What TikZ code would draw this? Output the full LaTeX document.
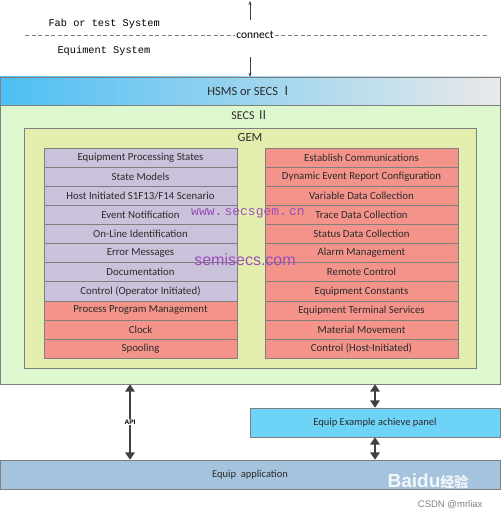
\documentclass[tikz,border=0pt]{standalone}
\usepackage{fontspec}
\setmainfont{Carlito}
\newfontfamily\monofont{Liberation Mono}
\newfontfamily\arialfont{Liberation Sans}
\newfontfamily\cjk{Noto Sans CJK SC}
\usetikzlibrary{arrows.meta, positioning}
\definecolor{verdesecs}{HTML}{DDF8CF}
\definecolor{amarillogem}{HTML}{E3EDAE}
\definecolor{lila}{HTML}{C9C2DA}
\definecolor{salmon}{HTML}{F4938A}
\definecolor{azulhsms}{HTML}{4DBFF4}
\definecolor{grisclaro}{HTML}{E9E9E9}
\definecolor{celeste}{HTML}{6DD3F7}
\definecolor{azulapp}{HTML}{A5C3DC}
\definecolor{gris}{HTML}{7F7F7F}
\definecolor{grisoscuro}{HTML}{404040}
\definecolor{morado}{HTML}{9A50B8}
\definecolor{texto}{HTML}{2B2B2B}

\tikzset{
  capa/.style={draw=gris, inner sep=0pt, text=texto, font=\fontsize{10.5}{12}\selectfont},
  fila/.style={capa, minimum width=193pt, minimum height=19.09pt, font=\fontsize{10.8}{12}\selectfont},
  doble/.style={{Triangle[length=7.5pt,width=9.5pt]}-{Triangle[length=7.5pt,width=9.5pt]},
                line width=2.4pt, draw=grisoscuro},
  fina/.style={-{Stealth[length=4pt,width=3pt]}, grisoscuro, thin},
}

\begin{document}
\begin{tikzpicture}[x=1pt, y=-1pt]
  \useasboundingbox (0,0) rectangle (500,518);

  % --- cabecera: fab / equipo ---
  \node[font=\monofont\fontsize{10.3}{12}\selectfont, anchor=west] (fab) at (45,24) {Fab or test System};
  \node[font=\monofont\fontsize{10.3}{12}\selectfont, anchor=west] (equi) at (54,51) {Equiment System};
  \node[font=\fontsize{11.5}{13}\selectfont, inner sep=1pt] (connect) at (255,35) {connect};
  \coordinate (dl) at (25,35);
  \coordinate (dr) at (488,35);
  \draw[gris, dashed, dash pattern=on 4pt off 2.5pt] (dl) -- (connect.west);
  \draw[gris, dashed, dash pattern=on 4pt off 2.5pt] (connect.east) -- (dr);
  \coordinate (arr1) at (250,20);
  \coordinate (arr0) at (250,1);
  \draw[fina] (arr1) -- (arr0);

  % --- capas ---
  \node[capa, fill=verdesecs, minimum width=500pt, minimum height=279pt] (secsII) at (250,244.5) {};
  \node[capa, font=\fontsize{12}{14}\selectfont, draw=none] (secslbl) at (250,115) {SECS\,{\cjk Ⅱ}};
  \node[capa, fill=amarillogem, minimum width=452pt, minimum height=240pt] (gem) at (250,248) {};
  \node[capa, font=\fontsize{12.5}{14}\selectfont, draw=none] (gemlbl) at (250,137.5) {GEM};

  \node[capa, left color=azulhsms, right color=grisclaro, minimum width=500pt, minimum height=28pt,
        font=\fontsize{12.5}{14}\selectfont] (hsms) at (250,91) {HSMS or SECS\,{\cjk Ⅰ}};
  \coordinate (arr2) at (250,57);
  \draw[fina] (arr2) -- (hsms.north);

  % --- columna izquierda ---
  \foreach \i/\lbl/\col in {1/Equipment Processing States/lila, 2/State Models/lila,
      3/{Host Initiated S1F13/F14 Scenario}/lila, 4/Event Notification/lila,
      5/On-Line Identification/lila, 6/Error Messages/lila, 7/Documentation/lila,
      8/Control (Operator Initiated)/lila, 9/Process Program Management/salmon,
      10/Clock/salmon, 11/Spooling/salmon} {
    \node[fila, fill=\col] (L\i) at (140.5,148+19.09*\i-9.545) {\lbl};
  }

  % --- columna derecha ---
  \foreach \i/\lbl in {1/Establish Communications, 2/Dynamic Event Report Configuration,
      3/Variable Data Collection, 4/Trace Data Collection, 5/Status Data Collection,
      6/Alarm Management, 7/Remote Control, 8/Equipment Constants,
      9/Equipment Terminal Services, 10/Material Movement, 11/Control (Host-Initiated)} {
    \node[fila, fill=salmon] (R\i) at (361.5,148+19.09*\i-9.545) {\lbl};
  }

  % marcas de agua
  \node[morado, font=\monofont\fontsize{13}{14}\selectfont] (wm1) at (248,213) {www.\,secsgem.\,cn};
  \node[morado, font=\arialfont\fontsize{16}{18}\selectfont] (wm2) at (245,260) {semisecs.com};

  % --- panel y aplicación ---
  \node[capa, fill=celeste, minimum width=250pt, minimum height=29pt] (panel) at (375,422.5) {Equip Example achieve panel};
  \node[capa, fill=azulapp, minimum width=500pt, minimum height=29pt] (app) at (250,474.5) {Equip\ \ application};

  \draw[doble] (secsII.south -| 130,0) -- node[fill=white, inner sep=1pt, font=\arialfont\bfseries\fontsize{6.5}{7}\selectfont, text=black] (api) {API} (app.north -| 130,0);
  \draw[doble] (secsII.south -| panel.north) -- (panel.north);
  \draw[doble] (panel.south) -- (app.north -| panel.south);

  \node[white, opacity=0.85, font=\arialfont\bfseries\fontsize{19}{20}\selectfont] (baidu) at (428,481) {Baidu{\cjk\fontsize{14}{16}\selectfont 经验}};
  \node[gris, font=\arialfont\fontsize{9.5}{11}\selectfont, anchor=east] (csdn) at (486,505) {CSDN @mrliax};
\end{tikzpicture}
\end{document}
